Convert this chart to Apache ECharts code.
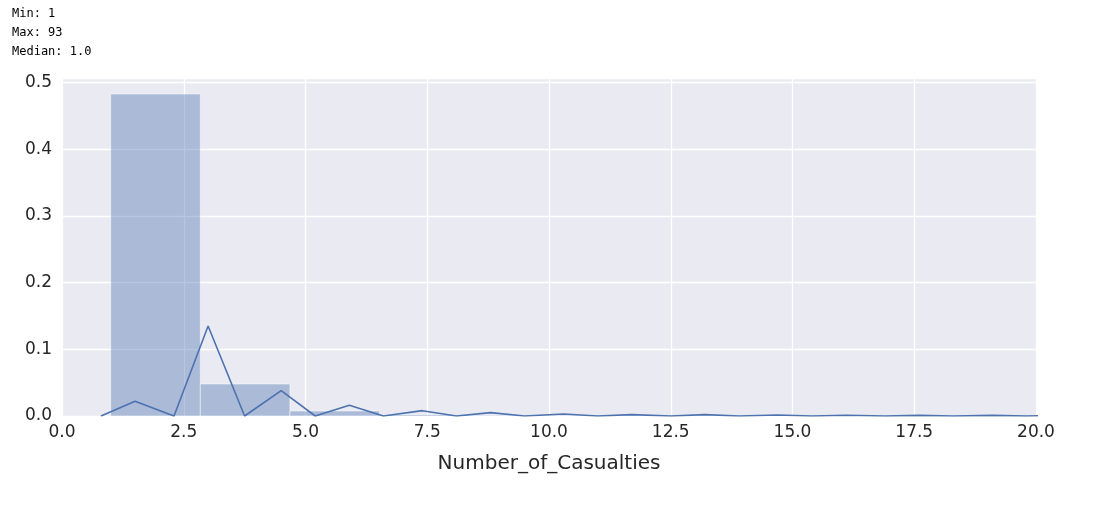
<!DOCTYPE html>
<html>
<head>
<meta charset="utf-8">
<script src="https://cdn.jsdelivr.net/npm/echarts@6/dist/echarts.min.js"></script>
<style>
body { margin: 0; background: #fff; }
#chart { width: 1093px; height: 507px; }
</style>
</head>
<body>
<div id="chart"></div>
<script>
// histogram bins (50 bins over 1..93), only the visible part
var binStart = 1;
var binWidth = 1.84;
var binHeights = [0.483, 0.048, 0.0075, 0.002, 0.001, 0.001, 0.0008, 0.0006, 0.0005, 0.0004, 0.0003];

// kde line as drawn (x, density)
var kdeX = [0.8, 1.5, 2.3, 3.0, 3.75, 4.5, 5.2, 5.9, 6.6, 7.4, 8.1, 8.8, 9.5, 10.3, 11.0, 11.7, 12.5, 13.2, 13.9, 14.7, 15.4, 16.1, 16.9, 17.6, 18.3, 19.1, 19.8, 20.5];
var kdeY = [0, 0.022, 0, 0.135, 0, 0.038, 0, 0.016, 0, 0.008, 0, 0.005, 0, 0.003, 0, 0.002, 0, 0.002, 0, 0.0015, 0, 0.0012, 0, 0.001, 0, 0.001, 0, 0.001];

var statLines = ['Min: 1', 'Max: 93', 'Median: 1.0'];

var chart = echarts.init(document.getElementById('chart'));

var bars = binHeights.map(function (h, i) {
    return [binStart + i * binWidth, binStart + (i + 1) * binWidth, h];
});

var option = {
    animation: false,
    graphic: [{
        type: 'text',
        left: 12,
        top: 4,
        style: {
            text: statLines.join('\n'),
            font: '12px "DejaVu Sans Mono", monospace',
            lineHeight: 19,
            fill: '#000'
        }
    }],
    grid: { left: 62, right: 57, top: 78, bottom: 91, backgroundColor: '#eaeaf2', show: true, borderWidth: 0 },
    xAxis: {
        type: 'value', min: 0, max: 20, interval: 2.5,
        name: 'Number_of_Casualties', nameLocation: 'middle', nameGap: 38,
        nameTextStyle: { fontSize: 20, color: '#262626', fontFamily: 'DejaVu Sans' },
        axisLine: { show: false }, axisTick: { show: false },
        axisLabel: { fontSize: 17, color: '#262626', fontFamily: 'DejaVu Sans', margin: 8,
            formatter: function (v) { return v.toFixed(1); } },
        splitLine: { lineStyle: { color: '#fff', width: 1.3 } }
    },
    yAxis: {
        type: 'value', min: 0, max: 0.507, interval: 0.1,
        axisLine: { show: false }, axisTick: { show: false },
        axisLabel: { fontSize: 17, color: '#262626', fontFamily: 'DejaVu Sans', margin: 10,
            formatter: function (v) { return Math.abs(v * 10 - Math.round(v * 10)) < 1e-6 ? v.toFixed(1) : ''; } },
        splitLine: { lineStyle: { color: '#fff', width: 1.3 } }
    },
    series: [{
        type: 'custom',
        clip: true,
        data: bars,
        renderItem: function (params, api) {
            var p0 = api.coord([api.value(0), api.value(2)]);
            var p1 = api.coord([api.value(1), 0]);
            return {
                type: 'rect',
                shape: { x: p0[0], y: p0[1], width: p1[0] - p0[0], height: p1[1] - p0[1] },
                style: { fill: 'rgba(76,114,176,0.4)', stroke: 'rgba(255,255,255,0.5)', lineWidth: 1 }
            };
        }
    }, {
        type: 'line',
        data: kdeX.map(function (x, i) { return [x, kdeY[i]]; }),
        showSymbol: false,
        clip: true,
        lineStyle: { color: '#4c72b0', width: 1.6 }
    }]
};

chart.setOption(option);
</script>
</body>
</html>
